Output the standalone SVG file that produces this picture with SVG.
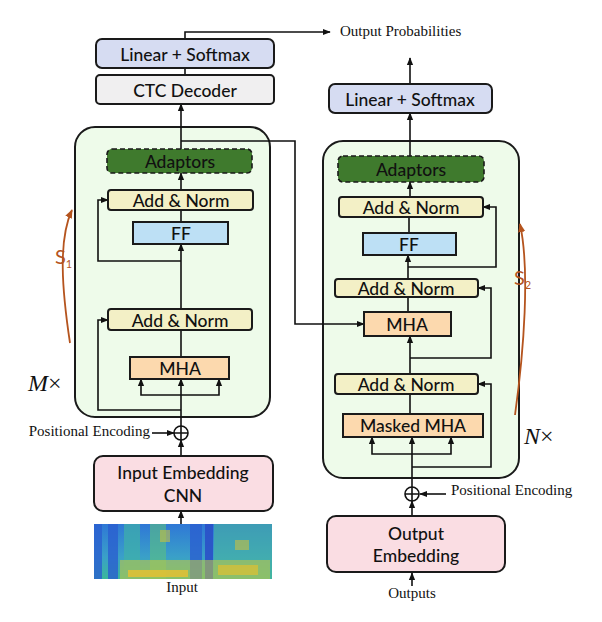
<svg xmlns="http://www.w3.org/2000/svg" width="602" height="622" viewBox="0 0 602 622">
<style>
.b{stroke:#1a1a1a;stroke-width:2}
.s{font-family:Lato,"Open Sans",sans-serif;font-size:17.5px;font-weight:500;fill:#111;text-anchor:middle;dominant-baseline:central}
.t{font-family:"Liberation Serif",serif;font-size:15px;fill:#111}
.l{fill:none;stroke:#111;stroke-width:1.6}
.o{fill:none;stroke:#b5541e;stroke-width:1.8}
.lin{fill:#d6dcf2}.an{fill:#f3f0c6}.ff{fill:#bde0f5}.mha{fill:#fcd9ae}.emb{fill:#fadde3}
</style>
<defs>
<marker id="a" viewBox="0 0 10 10" refX="9" refY="5" markerWidth="5" markerHeight="5" orient="auto"><path d="M0,1 L10,5 L0,9z" fill="#111"/></marker>
<marker id="ao" viewBox="0 0 10 10" refX="9" refY="5" markerWidth="5" markerHeight="5" orient="auto"><path d="M0,1 L10,5 L0,9z" fill="#b5541e"/></marker>
<linearGradient id="sp" x1="0" y1="0" x2="0" y2="1"><stop offset="0" stop-color="#2f78d6"/><stop offset="0.6" stop-color="#3aa0c8"/><stop offset="1" stop-color="#3ab89a"/></linearGradient>
</defs>
<g id="encoder-block"><rect x="75" y="127" width="195" height="290" rx="20" fill="#eefbea" class="b"/></g>
<g id="decoder-block"><rect x="323" y="141" width="196" height="337" rx="20" fill="#eefbea" class="b"/></g>
<g id="connectors">
<path class="l" d="M185,39 V32 H330" marker-end="url(#a)"/>
<path class="l" d="M185,68 V75"/>
<path class="l" d="M181,149 V104" marker-end="url(#a)"/>
<path class="l" d="M181,141 H295 V324 H364" marker-end="url(#a)"/>
<path class="l" d="M181,190 V173" marker-end="url(#a)"/>
<path class="l" d="M181,222 V210"/>
<path class="l" d="M181,309 V244" marker-end="url(#a)"/>
<path class="l" d="M181,261 H98 V200 H108" marker-end="url(#a)"/>
<path class="l" d="M181,357 V330"/>
<path class="l" d="M181,426 V379" marker-end="url(#a)"/>
<path class="l" d="M181,410 H98 V320 H108" marker-end="url(#a)"/>
<path class="l" d="M181,395 H141 V379" marker-end="url(#a)"/>
<path class="l" d="M181,395 H219 V379" marker-end="url(#a)"/>
<path class="l" d="M152,433 H174" marker-end="url(#a)"/>
<path class="l" d="M181,456 V440" marker-end="url(#a)"/>
<path class="l" d="M181,524 V511" marker-end="url(#a)"/>
<path class="l" d="M410,84 V58" marker-end="url(#a)"/>
<path class="l" d="M410,156 V113" marker-end="url(#a)"/>
<path class="l" d="M410,197 V182" marker-end="url(#a)"/>
<path class="l" d="M409,233 V217"/>
<path class="l" d="M408,279 V255" marker-end="url(#a)"/>
<path class="l" d="M408,267 H496 V207 H483" marker-end="url(#a)"/>
<path class="l" d="M408,312 V297"/>
<path class="l" d="M410,374 V336" marker-end="url(#a)"/>
<path class="l" d="M410,358 H491 V288 H478" marker-end="url(#a)"/>
<path class="l" d="M410,414 V394"/>
<path class="l" d="M412,487 V437" marker-end="url(#a)"/>
<path class="l" d="M412,467 H491 V384 H478" marker-end="url(#a)"/>
<path class="l" d="M412,454 H372 V437" marker-end="url(#a)"/>
<path class="l" d="M412,454 H451 V437" marker-end="url(#a)"/>
<path class="l" d="M446,494 H420" marker-end="url(#a)"/>
<path class="l" d="M412,516 V501" marker-end="url(#a)"/>
<path class="l" d="M412,586 V573" marker-end="url(#a)"/>
<path class="o" d="M70,343 C62,290 58,240 72,210" marker-end="url(#ao)"/>
<path class="o" d="M515,415 C524,350 530,270 520,224" marker-end="url(#ao)"/>
</g>
<g id="lin-left"><rect x="96" y="39" width="178" height="29" rx="6" class="b lin"/><text x="185" y="54" class="s">Linear + Softmax</text></g>
<g id="ctc"><rect x="96" y="75" width="178" height="29" rx="4" class="b" fill="#f0eff0"/><text x="185" y="90" class="s">CTC Decoder</text></g>
<g id="adapt-left"><rect x="107" y="149" width="145" height="24" rx="5" fill="#3f7a2d" stroke="#1a1a1a" stroke-width="1.6" stroke-dasharray="5,3"/><text x="180" y="161" class="s">Adaptors</text></g>
<g id="an1-left"><rect x="108" y="190" width="145" height="20" rx="3" class="b an" stroke-width="1.6"/><text x="181" y="200" class="s">Add &amp; Norm</text></g>
<g id="ff-left"><rect x="133" y="222" width="95" height="22" class="b ff" stroke-width="1.6"/><text x="181" y="233" class="s">FF</text></g>
<g id="an2-left"><rect x="108" y="309" width="144" height="21" rx="3" class="b an" stroke-width="1.6"/><text x="180" y="320" class="s">Add &amp; Norm</text></g>
<g id="mha-left"><rect x="130" y="357" width="99" height="22" class="b mha" stroke-width="1.6"/><text x="180" y="368" class="s">MHA</text></g>
<g id="pe-left"><circle cx="181" cy="433" r="7" fill="none" stroke="#111" stroke-width="1.6"/><path class="l" d="M174,433 H188 M181,426 V440"/><text x="150" y="431" class="t" text-anchor="end" dominant-baseline="central">Positional Encoding</text></g>
<g id="in-emb"><rect x="94" y="456" width="179" height="55" rx="9" class="b emb"/><text x="183" y="472" class="s">Input Embedding</text><text x="183" y="495" class="s">CNN</text></g>
<g id="spectrogram">
<rect x="94" y="524" width="178" height="55" fill="url(#sp)"/>
<rect x="94" y="524" width="8" height="55" fill="#2a5fd0" opacity="0.8"/>
<rect x="108" y="524" width="10" height="55" fill="#2a5fd0" opacity="0.8"/>
<rect x="124" y="524" width="16" height="55" fill="#3fb0a8" opacity="0.7"/>
<rect x="150" y="524" width="16" height="55" fill="#5cc080" opacity="0.6"/>
<rect x="190" y="524" width="12" height="55" fill="#2a5fd0" opacity="0.8"/>
<rect x="205" y="524" width="8" height="55" fill="#2a50c8" opacity="0.9"/>
<rect x="214" y="524" width="58" height="55" fill="#48b4a0" opacity="0.6"/>
<rect x="120" y="560" width="150" height="19" fill="#c8c840" opacity="0.55"/>
<rect x="128" y="570" width="60" height="7" fill="#e8c030" opacity="0.8"/>
<rect x="218" y="565" width="40" height="10" fill="#e0c030" opacity="0.7"/>
<rect x="160" y="530" width="10" height="12" fill="#c8c040" opacity="0.6"/>
<rect x="235" y="540" width="14" height="10" fill="#c8c040" opacity="0.6"/>
<text x="182" y="587" class="t" text-anchor="middle" dominant-baseline="central">Input</text></g>
<g id="lin-right"><rect x="329" y="84" width="163" height="29" rx="6" class="b lin"/><text x="410" y="99" class="s">Linear + Softmax</text></g>
<g id="adapt-right"><rect x="338" y="156" width="146" height="26" rx="5" fill="#3f7a2d" stroke="#1a1a1a" stroke-width="1.6" stroke-dasharray="5,3"/><text x="411" y="169" class="s">Adaptors</text></g>
<g id="an1-right"><rect x="339" y="197" width="144" height="20" rx="3" class="b an" stroke-width="1.6"/><text x="411" y="207" class="s">Add &amp; Norm</text></g>
<g id="ff-right"><rect x="363" y="233" width="93" height="22" class="b ff" stroke-width="1.6"/><text x="409" y="244" class="s">FF</text></g>
<g id="an2-right"><rect x="335" y="279" width="143" height="18" rx="3" class="b an" stroke-width="1.6"/><text x="406" y="288" class="s">Add &amp; Norm</text></g>
<g id="mha-right"><rect x="364" y="312" width="87" height="24" class="b mha" stroke-width="1.6"/><text x="407" y="324" class="s">MHA</text></g>
<g id="an3-right"><rect x="335" y="374" width="143" height="20" rx="3" class="b an" stroke-width="1.6"/><text x="406" y="384" class="s">Add &amp; Norm</text></g>
<g id="masked-mha"><rect x="343" y="414" width="140" height="23" class="b mha" stroke-width="1.6"/><text x="413" y="425" class="s">Masked MHA</text></g>
<g id="pe-right"><circle cx="412" cy="494" r="7" fill="none" stroke="#111" stroke-width="1.6"/><path class="l" d="M405,494 H419 M412,487 V501"/><text x="451" y="490" class="t" dominant-baseline="central">Positional Encoding</text></g>
<g id="out-emb"><rect x="327" y="516" width="178" height="56" rx="9" class="b emb"/><text x="416" y="533" class="s">Output</text><text x="416" y="555" class="s">Embedding</text></g>
<text x="412" y="593" class="t" text-anchor="middle" dominant-baseline="central">Outputs</text>
<text x="340" y="31" class="t" dominant-baseline="central">Output Probabilities</text>
<text x="28" y="383" font-family="'Liberation Serif',serif" font-size="24" font-style="italic" fill="#111" dominant-baseline="central">M<tspan font-style="normal">×</tspan></text>
<text x="524" y="436" font-family="'Liberation Serif',serif" font-size="24" font-style="italic" fill="#111" dominant-baseline="central">N<tspan font-style="normal">×</tspan></text>
<text x="55" y="264" font-family="Lato,sans-serif" font-size="20" fill="#b5541e">S<tspan font-size="11" dy="4">1</tspan></text>
<text x="514" y="285" font-family="Lato,sans-serif" font-size="20" fill="#b5541e">S<tspan font-size="11" dy="4">2</tspan></text>
</svg>
